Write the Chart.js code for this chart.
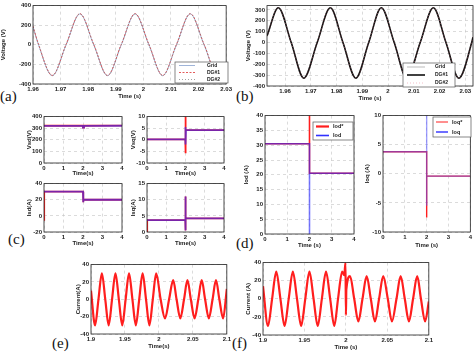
<!DOCTYPE html>
<html>
<head>
<meta charset="utf-8">
<script src="https://cdn.jsdelivr.net/npm/chart.js@4.4.0/dist/chart.umd.min.js"></script>
<style>
  html, body { margin: 0; padding: 0; background: #fff; }
  #fig { position: relative; width: 474px; height: 354px; overflow: hidden; background: #fff; }
  .tag { position: absolute; font-family: 'Liberation Serif', serif; font-size: 15px; color: #111; }
</style>
</head>
<body>
<div id="fig">
  <div class="tag" style="left:0px;top:88px">(a)</div>
  <div class="tag" style="left:236px;top:88px">(b)</div>
  <div class="tag" style="left:8px;top:231px">(c)</div>
  <div class="tag" style="left:236px;top:235px">(d)</div>
  <div class="tag" style="left:52px;top:335px">(e)</div>
  <div class="tag" style="left:232px;top:335px">(f)</div>
</div>
<script>
// ---- (a) 电压波形
const aTime = [1.96, 1.962, 1.967, 1.972, 1.977, 1.982, 1.987, 1.992, 1.997, 2.002, 2.007, 2.012, 2.017, 2.022, 2.027, 2.03];
const aGrid = [185, 0, -315, 0, 315, 0, -315, 0, 315, 0, -315, 0, 315, 0, -315, -255];
const aDG1  = [190, 5, -312, 5, 318, 5, -312, 5, 318, 5, -312, 5, 318, 5, -312, -250];
const aXTicks = [1.96, 1.97, 1.98, 1.99, 2, 2.01, 2.02, 2.03];
const aYTicks = [-400, -200, 0, 200, 400];

// ---- (b)
const bTime = [1.953, 1.9574, 1.9624, 1.9673, 1.9725, 1.9776, 1.9825, 1.9875, 1.9925, 1.9974, 2.0024, 2.0073, 2.0125, 2.0176, 2.0225, 2.0275, 2.0325, 2.033];
const bVolt = [60, 320, 0, -328, 0, 320, 0, -328, 0, 320, 0, -328, 0, 320, 0, -328, 0, 50];
const bXTicks = [1.96, 1.97, 1.98, 1.99, 2, 2.01, 2.02, 2.03];
const bYTicks = [-400, -300, -200, -100, 0, 100, 200, 300];

// ---- (c)
const stepTicks = [0, 1, 2, 3, 4];
const c1Time = [0, 1.98, 2.0, 2.05, 4];
const c1Red  = [321, 321, 306, 321, 322];
const c1Blue = [320, 320, 306, 320, 321];
const c2RedTime  = [0, 1.99, 2.0, 2.0, 2.0, 2.02, 4];
const c2Red      = [0.2, 0.2, 10, -5.8, 3.5, 4.2, 4.2];
const c2BlueTime = [0, 1.99, 2.0, 2.0, 2.03, 4];
const c2Blue     = [0.2, 0.2, 5.5, -2, 4.2, 4.2];
const c3RedTime  = [0, 0.01, 1.99, 2.0, 2.0, 2.03, 2.06, 4];
const c3Red      = [-5, 30, 30, 30, 17, 21, 20, 20];
const c3BlueTime = [0, 1.99, 2.0, 2.0, 2.03, 2.06, 4];
const c3Blue     = [30, 30, 30, 17, 21, 20, 20];
const c4RedTime  = [0, 0.01, 1.99, 2.0, 2.0, 2.01, 2.05, 4];
const c4Red      = [0, 3.7, 3.7, 11, 0.5, 4.5, 4.2, 4.2];
const c4BlueTime = [0, 1.99, 2.0, 2.0, 2.01, 2.05, 4];
const c4Blue     = [3.7, 3.7, 11, 0.5, 4.5, 4.2, 4.2];

// ---- (d)
const d1Time = [0, 2, 2, 2, 4];
const d1Ref  = [30.5, 30.5, 40, 20.5, 20.5];
const d1Meas = [30.5, 30.5, 0, 20.5, 20.5];
const d2RefTime  = [0, 2, 2, 2, 4];
const d2Ref      = [3.8, 3.8, -7.5, -0.4, -0.4];
const d2MeasTime = [0, 2, 2, 2, 2, 4];
const d2Meas     = [3.8, 3.8, 10, -5.5, -0.4, -0.4];

// ---- (e)
const eTime = [1.9, 1.906, 1.911, 1.916, 1.921, 1.926, 1.931, 1.936, 1.941, 1.946, 1.951, 1.956, 1.961, 1.966, 1.971, 1.976, 1.981, 1.986, 1.991, 1.996,
  2.0025, 2.009, 2.015, 2.021, 2.026, 2.0315, 2.037, 2.042, 2.047, 2.0525, 2.058, 2.063, 2.068, 2.0735, 2.079, 2.084, 2.089, 2.0945, 2.1];
const eCurr = [10, -30, 0, 30, 0, -30, 0, 30, 0, -30, 0, 30, 0, -30, 0, 30, 0, -30, 0, 30,
  0, -22, 0, 22, 0, -22, 0, 22, 0, -22, 0, 22, 0, -22, 0, 22, 0, -22, 12];
// ---- (f)
const fTime = [1.9, 1.906, 1.911, 1.916, 1.921, 1.926, 1.931, 1.936, 1.941, 1.946, 1.951, 1.956, 1.961, 1.966, 1.971, 1.976, 1.981, 1.986, 1.9905, 1.9955,
  1.998, 1.9995, 2.0, 2.0005, 2.005, 2.01, 2.015, 2.02, 2.025, 2.03, 2.035, 2.04, 2.045, 2.0505, 2.0555, 2.061, 2.066, 2.071, 2.076, 2.081, 2.086, 2.0905, 2.0955, 2.1];
const fCurr = [14, -30, 0, 30, 0, -30, 0, 30, 0, -30, 0, 30, 0, -30, 0, 30, 0, -30, 0, 30,
  26, 40, -18, 10, 25, 0, -25, 0, 25, 0, -25, 0, 25, 0, -25, 0, 25, 0, -25, 0, 25, 0, -25, -3];
const wTicks = [1.9, 1.95, 2, 2.05, 2.1];
const wYTicks = [-40, -20, 0, 20, 40];

const RED = '#ff1e1e';
const BLUE = 'rgba(40, 40, 255, 0.62)';
const tickFont = { family: 'Liberation Sans', size: 6, weight: 'bold' };

function xy(t, v) { return t.map((x, i) => ({ x: x, y: v[i] })); }

// 外框
const boxPlugin = {
    id: 'box',
    afterDatasetsDraw(chart) {
        const a = chart.chartArea, c = chart.ctx;
        c.save();
        c.strokeStyle = '#222';
        c.lineWidth = 0.8;
        c.strokeRect(a.left, a.top, a.right - a.left, a.bottom - a.top);
        c.restore();
    }
};

// 图例（MATLAB 风格）
const boxLegend = {
    id: 'boxLegend',
    afterDraw(chart, args, opts) {
        if (!opts.rect) return;
        const c = chart.ctx;
        const off = chart.canvas._off;
        const [x0, y0, x1, y1] = opts.rect.map((v, i) => v - (i % 2 === 0 ? off[0] : off[1]));
        const sets = chart.data.datasets.filter(d => d.label);
        c.save();
        c.fillStyle = '#fff';
        c.fillRect(x0, y0, x1 - x0, y1 - y0);
        c.strokeStyle = '#555';
        c.lineWidth = 0.7;
        c.strokeRect(x0, y0, x1 - x0, y1 - y0);
        const rowH = (y1 - y0) / sets.length;
        c.font = 'bold ' + (opts.size || 5) + 'px Liberation Sans';
        c.textBaseline = 'middle';
        sets.forEach((d, i) => {
            const yy = y0 + rowH * (i + 0.5);
            c.strokeStyle = d.legendColor || d.borderColor;
            c.lineWidth = d.legendWidth || d.borderWidth;
            c.setLineDash(d.borderDash || []);
            c.beginPath();
            c.moveTo(x0 + (opts.lx0 || 4), yy);
            c.lineTo(x0 + (opts.lx1 || 18), yy);
            c.stroke();
            c.setLineDash([]);
            c.fillStyle = '#222';
            c.fillText(d.label, x0 + (opts.tx || 21), yy);
        });
        c.restore();
    }
};

function makePlot(o) {
    const padL = o.padL, padB = o.padB, padT = o.padT || 5, padR = o.padR || 6;
    const w = o.box[2] - o.box[0], h = o.box[3] - o.box[1];
    const cv = document.createElement('canvas');
    cv.width = w + padL + padR;
    cv.height = h + padT + padB;
    const left = o.box[0] - padL, top = o.box[1] - padT;
    cv.style.cssText = `position:absolute;left:${left}px;top:${top}px;width:${cv.width}px;height:${cv.height}px`;
    cv._off = [left, top];
    document.getElementById('fig').appendChild(cv);

    const grid = { color: '#c4c4c4', lineWidth: 0.6, drawTicks: false };
    return new Chart(cv.getContext('2d'), {
        type: 'line',
        data: {
            datasets: o.sets.map(s => ({
                label: s.label,
                data: s.data,
                borderColor: s.color,
                borderWidth: s.width || 1,
                borderDash: s.dash,
                legendColor: s.legendColor,
                legendWidth: s.legendWidth,
                order: s.order || 0,
                pointRadius: 0,
                fill: false,
                tension: 0,
                cubicInterpolationMode: s.smooth ? 'monotone' : 'default'
            }))
        },
        options: {
            responsive: false,
            animation: false,
            devicePixelRatio: 1,
            layout: { autoPadding: false, padding: { top: padT, right: padR, left: 0, bottom: 0 } },
            plugins: {
                legend: { display: false },
                tooltip: { enabled: false },
                boxLegend: o.legend || {}
            },
            scales: {
                x: {
                    type: 'linear',
                    min: o.xMin,
                    max: o.xMax,
                    afterBuildTicks: s => { s.ticks = o.xTicks.map(v => ({ value: v })); },
                    afterFit: s => { s.height = padB; },
                    grid: grid,
                    border: { display: false, dash: [3, 3] },
                    ticks: { font: tickFont, color: '#222', padding: 2, maxRotation: 0, autoSkip: false, callback: v => String(v) },
                    title: { display: true, text: o.xTitle, font: tickFont, color: '#222', padding: { top: 0, bottom: 0 } }
                },
                y: {
                    type: 'linear',
                    min: o.yMin,
                    max: o.yMax,
                    afterBuildTicks: s => { s.ticks = o.yTicks.map(v => ({ value: v })); },
                    afterFit: s => { s.width = padL; },
                    grid: grid,
                    border: { display: false, dash: [3, 3] },
                    ticks: { font: tickFont, color: '#222', padding: 2, autoSkip: false, callback: v => String(v) },
                    title: { display: true, text: o.yTitle, font: tickFont, color: '#222', padding: { top: 0, bottom: 1 } }
                }
            }
        },
        plugins: [boxPlugin, boxLegend]
    });
}

// (a)
makePlot({
    box: [33, 2, 228, 84], padL: 33, padB: 16, padT: 2,
    xMin: 1.96, xMax: 2.03, xTicks: aXTicks, yMin: -400, yMax: 400, yTicks: aYTicks,
    xTitle: 'Time (s)', yTitle: 'Voltage (V)',
    sets: [
        { label: 'Grid', data: xy(aTime, aGrid), color: '#9fb4d8', width: 1, smooth: true, order: 3 },
        { label: 'DG#1', data: xy(aTime, aDG1), color: '#e04848', width: 0.9, dash: [2, 1.5], smooth: true, order: 2 },
        { label: 'DG#2', data: xy(aTime, aGrid), color: '#888', width: 0.8, dash: [1, 2], smooth: true, order: 1 }
    ],
    legend: { rect: [175, 62, 228, 83], size: 5, lx0: 4, lx1: 20, tx: 32 }
});

// (b)
makePlot({
    box: [267, 2, 473, 86], padL: 22, padB: 16, padT: 2, padR: 2,
    xMin: 1.953, xMax: 2.033, xTicks: bXTicks, yMin: -400, yMax: 340, yTicks: bYTicks,
    xTitle: 'Time (s)', yTitle: 'Voltage (V)',
    sets: [
        { label: 'Grid', data: xy(bTime, bVolt), color: '#bbb', width: 1, smooth: true, order: 3 },
        { label: 'DG#1', data: xy(bTime, bVolt), color: '#111', width: 1.6, smooth: true, order: 2 },
        { label: 'DG#2', data: xy(bTime, bVolt), color: 'rgba(230,120,140,0.6)', width: 0.8, dash: [1, 2], smooth: true, order: 1 }
    ],
    legend: { rect: [403, 63, 455, 87], size: 5, lx0: 4, lx1: 22, tx: 32 }
});

// (c)
makePlot({
    box: [44, 116, 122, 163], padL: 18, padB: 14,
    xMin: 0, xMax: 4, xTicks: stepTicks, yMin: 0, yMax: 400, yTicks: [0, 100, 200, 300, 400],
    xTitle: 'Time(s)', yTitle: 'Vsd(V)',
    sets: [
        { data: xy(c1Time, c1Red), color: RED, width: 1.8, order: 2 },
        { data: xy(c1Time, c1Blue), color: BLUE, width: 1.8, order: 1 }
    ]
});
makePlot({
    box: [147, 116, 224, 163], padL: 17, padB: 14,
    xMin: 0, xMax: 4, xTicks: stepTicks, yMin: -10, yMax: 10, yTicks: [-10, -5, 0, 5, 10],
    xTitle: 'Time(s)', yTitle: 'Vsq(V)',
    sets: [
        { data: xy(c2RedTime, c2Red), color: RED, width: 1.8, order: 2 },
        { data: xy(c2BlueTime, c2Blue), color: BLUE, width: 1.8, order: 1 }
    ]
});
makePlot({
    box: [44, 183, 122, 232], padL: 18, padB: 15,
    xMin: 0, xMax: 4, xTicks: stepTicks, yMin: -20, yMax: 40, yTicks: [-20, 0, 20, 40],
    xTitle: 'Time(s)', yTitle: 'Isd(A)',
    sets: [
        { data: xy(c3RedTime, c3Red), color: RED, width: 1.8, order: 2 },
        { data: xy(c3BlueTime, c3Blue), color: BLUE, width: 1.8, order: 1 }
    ]
});
makePlot({
    box: [147, 183, 224, 232], padL: 17, padB: 15,
    xMin: 0, xMax: 4, xTicks: stepTicks, yMin: 0, yMax: 15, yTicks: [0, 5, 10, 15],
    xTitle: 'Time(s)', yTitle: 'Isq(A)',
    sets: [
        { data: xy(c4RedTime, c4Red), color: RED, width: 1.8, order: 2 },
        { data: xy(c4BlueTime, c4Blue), color: BLUE, width: 1.8, order: 1 }
    ]
});

// (d)
makePlot({
    box: [265, 115, 354, 234], padL: 22, padB: 15,
    xMin: 0, xMax: 4, xTicks: stepTicks, yMin: 0, yMax: 40, yTicks: [0, 5, 10, 15, 20, 25, 30, 35, 40],
    xTitle: 'Time (s)', yTitle: 'Iod (A)',
    sets: [
        { label: 'Iod*', data: xy(d1Time, d1Ref), color: RED, width: 1.6, legendWidth: 2.2, order: 2 },
        { label: 'Iod', data: xy(d1Time, d1Meas), color: BLUE, width: 1.6, legendColor: '#3030ff', legendWidth: 1.6, order: 1 }
    ],
    legend: { rect: [313, 122, 353, 140], size: 5.5, lx0: 3, lx1: 16, tx: 20 }
});
makePlot({
    box: [383, 115, 472, 232], padL: 19, padB: 17, padR: 2,
    xMin: 0, xMax: 4, xTicks: stepTicks, yMin: -10, yMax: 10, yTicks: [-10, -5, 0, 5, 10],
    xTitle: 'Time (s)', yTitle: 'Ioq (A)',
    sets: [
        { label: 'Ioq*', data: xy(d2RefTime, d2Ref), color: RED, width: 1.4, legendWidth: 1, order: 2 },
        { label: 'Ioq', data: xy(d2MeasTime, d2Meas), color: 'rgba(80, 80, 255, 0.55)', width: 1.4, legendColor: '#3030ff', legendWidth: 1.4, order: 1 }
    ],
    legend: { rect: [433, 117, 471, 137], size: 5.5, lx0: 3, lx1: 15, tx: 19 }
});

// (e)
makePlot({
    box: [91, 264, 227, 334], padL: 16, padB: 16,
    xMin: 1.9, xMax: 2.1, xTicks: wTicks, yMin: -40, yMax: 40, yTicks: wYTicks,
    xTitle: 'Time(s)', yTitle: 'Current(A)',
    sets: [{ data: xy(eTime, eCurr), color: RED, width: 2.2, smooth: true }]
});

// (f)
makePlot({
    box: [263, 262, 429, 335], padL: 18, padB: 16,
    xMin: 1.9, xMax: 2.1, xTicks: wTicks, yMin: -40, yMax: 40, yTicks: wYTicks,
    xTitle: 'Time (s)', yTitle: 'Current (A)',
    sets: [{ data: xy(fTime, fCurr), color: RED, width: 2.2, smooth: true }]
});
</script>
</body>
</html>
